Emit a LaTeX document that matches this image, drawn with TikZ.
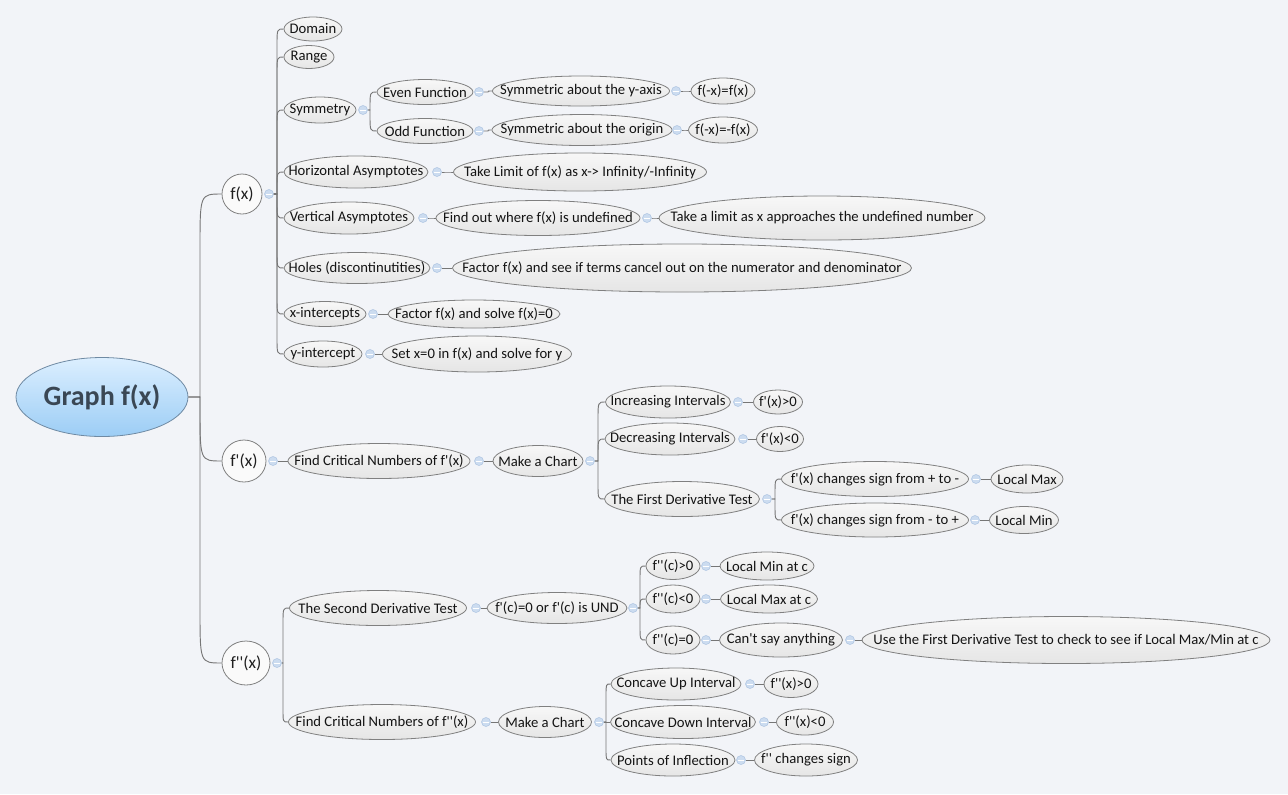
\documentclass[tikz,border=0pt]{standalone}
\usepackage{fontspec}
\setmainfont{Carlito}[Ligatures=TeXOff]
\usetikzlibrary{shapes.geometric,calc}
\definecolor{bg}{HTML}{F2F4F8}
\definecolor{nodeline}{HTML}{808080}
\definecolor{conncol}{HTML}{767676}
\definecolor{knobfill}{HTML}{CCDCF0}
\definecolor{knobline}{HTML}{AFC5E2}
\definecolor{roottop}{HTML}{DCEFFF}
\definecolor{rootbot}{HTML}{9CCDF5}
\definecolor{rootline}{HTML}{6F8AA3}
\definecolor{roottext}{HTML}{3A4754}
\newcommand\mb[1]{\makebox[0pt]{#1}}
\newcommand\br[3]{\draw[conn] let \p1=(#1.east), \p2=(#3.west), \p3=(#2,0),
  \n1={(\y2>\y1)-(\y2<\y1)}, \n2={min(abs(\y2-\y1),2.5*(\x2-\x3))} in
  (\p1) -- (\x3,\y1) -- (\x3,{\y2-(\n1)*(\n2)}) .. controls (\x3,\y2) .. (\p2);}
\tikzset{
  bub/.style 2 args={ellipse, draw=nodeline, line width=0.6pt, top color=white!97!black, bottom color=white!90!black,
    minimum width=#1*0.75pt, minimum height=#2*0.75pt, inner sep=0pt,
    font=\fontsize{11}{13}\selectfont, text=black!92},
  fnode/.style 2 args={ellipse, draw=nodeline, line width=0.6pt, fill=white!98!black,
    minimum width=#1*0.75pt, minimum height=#2*0.75pt, inner sep=0pt,
    font=\fontsize{13}{15}\selectfont, text=black!88},
  knob/.style={circle, minimum size=9*0.75pt, inner sep=0pt, fill=knobfill, draw=knobline, line width=0.4pt,
    path picture={\draw[white, line width=0.7pt] ([xshift=-2pt]path picture bounding box.center) -- ([xshift=2pt]path picture bounding box.center);}},
  conn/.style={draw=conncol, line width=0.7pt}
}
\begin{document}
\begin{tikzpicture}[x=0.75pt,y=-0.75pt]
\fill[bg] (0,0) rectangle (1288,794);
\useasboundingbox (0,0) rectangle (1288,794);

% root
\node[ellipse, draw=rootline, line width=0.6pt, top color=roottop, bottom color=rootbot,
  minimum width=172*0.75pt, minimum height=79*0.75pt, inner sep=0pt,
  font=\fontsize{21}{24}\selectfont\bfseries, text=roottext] (root) at (102,397) {\mb{Graph f(x)}};

% level 1
\node[fnode={40}{40}] (fx) at (242,194) {\mb{f(x)}};
\node[fnode={44}{42}] (fpx) at (244,461) {\mb{f'(x)}};
\node[fnode={48}{44}] (fppx) at (246,663) {\mb{f''(x)}};
\node[knob] (kfx) at (269,194) {};
\node[knob] (kfpx) at (273,461) {};
\node[knob] (kfppx) at (277,663) {};

% f(x) children
\node[bub={58}{24}] (dom) at (313,29) {\mb{Domain}};
\node[bub={50}{23}] (ran) at (309,57) {\mb{Range}};
\node[bub={72}{26}] (sym) at (320,110) {\mb{Symmetry}};
\node[knob] (ksym) at (363,110) {};
\node[bub={144}{32}] (ha) at (356,172) {\mb{Horizontal Asymptotes}};
\node[knob] (kha) at (437,172) {};
\node[bub={130}{32}] (va) at (349,218) {\mb{Vertical Asymptotes}};
\node[knob] (kva) at (423,218) {};
\node[bub={146}{31}] (hol) at (357,268) {\mb{Holes (discontinutities)}};
\node[knob] (khol) at (437,268) {};
\node[bub={82}{25}] (xi) at (325,314) {\mb{x-intercepts}};
\node[knob] (kxi) at (373,314) {};
\node[bub={78}{26}] (yi) at (323,354) {\mb{y-intercept}};
\node[knob] (kyi) at (370,354) {};

\node[bub={96}{25}] (even) at (425,92) {\mb{Even Function}};
\node[knob] (keven) at (479,92) {};
\node[bub={96}{25}] (odd) at (425,131) {\mb{Odd Function}};
\node[knob] (kodd) at (479,131) {};
\node[bub={177}{30}] (symy) at (581,91) {\mb{Symmetric about the y-axis}};
\node[knob] (ksymy) at (676,91) {};
\node[bub={180}{31}] (symo) at (582,130) {\mb{Symmetric about the origin}};
\node[knob] (ksymo) at (677,130) {};
\node[bub={64}{26}] (fe) at (723,91) {\mb{f(-x)=f(x)}};
\node[bub={69}{26}] (fo) at (723,130) {\mb{f(-x)=-f(x)}};
\node[bub={253}{38}] (lim) at (580,172) {\mb{Take Limit of f(x) as x-> Infinity/-Infinity}};
\node[bub={204}{35}] (und) at (538,218) {\mb{Find out where f(x) is undefined}};
\node[knob] (kund) at (647,218) {};
\node[bub={326}{44}] (lima) at (822,218) {\mb{Take a limit as x approaches the undefined number}};
\node[bub={459}{48}] (fac) at (682,268) {\mb{Factor f(x) and see if terms cancel out on the numerator and denominator}};
\node[bub={172}{28}] (facs) at (474,314) {\mb{Factor f(x) and solve f(x)=0}};
\node[bub={189}{36}] (setx) at (477,354) {\mb{Set x=0 in f(x) and solve for y}};

% f'(x) branch
\node[bub={182}{35}] (fcn) at (379,461) {\mb{Find Critical Numbers of f'(x)}};
\node[knob] (kfcn) at (479,461) {};
\node[bub={90}{31}] (mac) at (538,461) {\mb{Make a Chart}};
\node[knob] (kmac) at (590,461) {};
\node[bub={125}{32}] (inc) at (668,402) {\mb{Increasing Intervals}};
\node[knob] (kinc) at (738,402) {};
\node[bub={49}{24}] (incv) at (778,402) {\mb{f'(x)>0}};
\node[bub={130}{32}] (dec) at (670,439) {\mb{Decreasing Intervals}};
\node[knob] (kdec) at (743,439) {};
\node[bub={47}{25}] (decv) at (780,439) {\mb{f'(x)<0}};
\node[bub={155}{35}] (fdt) at (682,499) {\mb{The First Derivative Test}};
\node[knob] (kfdt) at (767,499) {};
\node[bub={187}{35}] (pm) at (875,479) {\mb{f'(x) changes sign from + to -}};
\node[knob] (kpm) at (976,479) {};
\node[bub={72}{28}] (lmax) at (1027,479) {\mb{Local Max}};
\node[bub={187}{34}] (mp) at (875,520) {\mb{f'(x) changes sign from - to +}};
\node[knob] (kmp) at (975,520) {};
\node[bub={69}{27}] (lmin) at (1024,520) {\mb{Local Min}};

% f''(x) branch
\node[bub={177}{35}] (sdt) at (378,608) {\mb{The Second Derivative Test}};
\node[knob] (ksdt) at (476,608) {};
\node[bub={140}{31}] (fc) at (557,608) {\mb{f'(c)=0 or f'(c) is UND}};
\node[knob] (kfc) at (633,608) {};
\node[bub={54}{27}] (cpos) at (673,566) {\mb{f''(c)>0}};
\node[knob] (kcpos) at (706,566) {};
\node[bub={94}{28}] (lminc) at (767,566) {\mb{Local Min at c}};
\node[bub={54}{28}] (cneg) at (673,599) {\mb{f''(c)<0}};
\node[knob] (kcneg) at (706,599) {};
\node[bub={97}{28}] (lmaxc) at (769,599) {\mb{Local Max at c}};
\node[bub={54}{28}] (czero) at (673,640) {\mb{f''(c)=0}};
\node[knob] (kczero) at (706,640) {};
\node[bub={123}{34}] (cant) at (781,640) {\mb{Can't say anything}};
\node[knob] (kcant) at (850,640) {};
\node[bub={408}{47}] (use) at (1066,640) {\mb{Use the First Derivative Test to check to see if Local Max/Min at c}};
\node[bub={187}{35}] (fcn2) at (382,722) {\mb{Find Critical Numbers of f''(x)}};
\node[knob] (kfcn2) at (486,722) {};
\node[bub={93}{31}] (mac2) at (545,722) {\mb{Make a Chart}};
\node[knob] (kmac2) at (599,722) {};
\node[bub={130}{32}] (cu) at (676,684) {\mb{Concave Up Interval}};
\node[knob] (kcu) at (750,684) {};
\node[bub={54}{27}] (cuv) at (791,684) {\mb{f''(x)>0}};
\node[bub={145}{33}] (cd) at (683,722) {\mb{Concave Down Interval}};
\node[knob] (kcd) at (764,722) {};
\node[bub={57}{26}] (cdv) at (805,722) {\mb{f''(x)<0}};
\node[bub={124}{32}] (poi) at (673,760) {\mb{Points of Inflection}};
\node[knob] (kpoi) at (741,760) {};
\node[bub={103}{32}] (fcs) at (806,760) {\mb{f'' changes sign}};

% connectors
\br{root}{200}{fx} \br{root}{200}{fpx} \br{root}{200}{fppx}
\foreach \c in {dom,ran,sym,ha,va,hol,xi,yi} {\br{kfx}{277}{\c}}
\br{ksym}{370}{even} \br{ksym}{370}{odd}
\br{keven}{488}{symy} \br{kodd}{488}{symo}
\br{ksymy}{685}{fe} \br{ksymo}{685}{fo}
\br{kha}{447}{lim}
\br{kva}{430}{und} \br{kund}{653}{lima}
\br{khol}{447}{fac}
\br{kxi}{382}{facs}
\br{kyi}{378}{setx}
\br{kfpx}{282}{fcn} \br{kfcn}{487}{mac}
\br{kmac}{598}{inc} \br{kmac}{598}{dec} \br{kmac}{598}{fdt}
\br{kinc}{748}{incv} \br{kdec}{750}{decv}
\br{kfdt}{775}{pm} \br{kfdt}{775}{mp}
\br{kpm}{985}{lmax} \br{kmp}{984}{lmin}
\br{kfppx}{283}{sdt} \br{kfppx}{283}{fcn2}
\br{ksdt}{482}{fc}
\br{kfc}{640}{cpos} \br{kfc}{640}{cneg} \br{kfc}{640}{czero}
\br{kcpos}{714}{lminc} \br{kcneg}{714}{lmaxc} \br{kczero}{714}{cant}
\br{kcant}{857}{use}
\br{kfcn2}{493}{mac2}
\br{kmac2}{606}{cu} \br{kmac2}{606}{cd} \br{kmac2}{606}{poi}
\br{kcu}{758}{cuv} \br{kcd}{771}{cdv} \br{kpoi}{749}{fcs}
\end{tikzpicture}
\end{document}
